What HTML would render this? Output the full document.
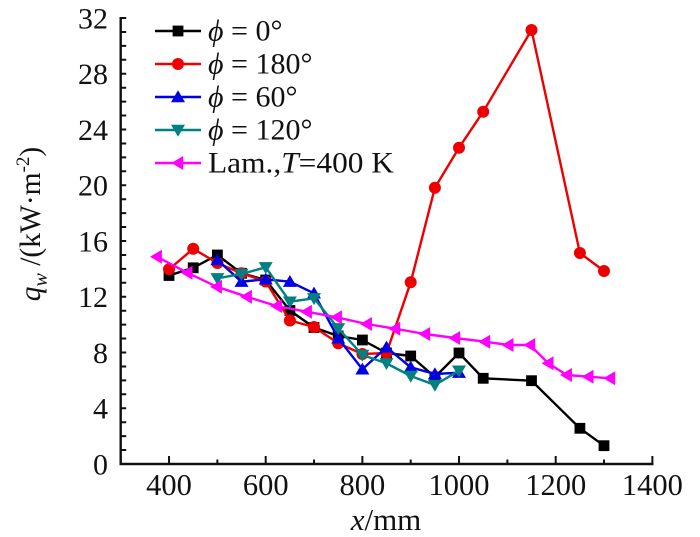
<!DOCTYPE html>
<html><head><meta charset="utf-8"><style>
html,body{margin:0;padding:0;background:#fff;}
svg{display:block;}
text{font-family:"Liberation Serif","Times New Roman",Times,serif;fill:#111;}
</style></head><body>
<svg width="700" height="537" viewBox="0 0 700 537" xmlns="http://www.w3.org/2000/svg" font-family="'Liberation Serif', 'Times New Roman', Times, serif">
<defs>
<marker id="sq" markerUnits="userSpaceOnUse" markerWidth="14" markerHeight="14" refX="7" refY="7" overflow="visible"><rect x="1.6" y="1.6" width="10.8" height="10.8" fill="#000"/></marker>
<marker id="ci" markerUnits="userSpaceOnUse" markerWidth="14" markerHeight="14" refX="7" refY="7" overflow="visible"><circle cx="7" cy="7" r="6" fill="#ee0000"/></marker>
<marker id="tu" markerUnits="userSpaceOnUse" markerWidth="14" markerHeight="14" refX="7" refY="7" overflow="visible"><polygon points="7,0.3 14,12.2 0,12.2" fill="#0000e6"/></marker>
<marker id="td" markerUnits="userSpaceOnUse" markerWidth="14" markerHeight="14" refX="7" refY="7" overflow="visible"><polygon points="7,13.7 14,1.8 0,1.8" fill="#008080"/></marker>
<marker id="tl" markerUnits="userSpaceOnUse" markerWidth="14" markerHeight="14" refX="7" refY="7" overflow="visible"><polygon points="0.3,7 12.2,0 12.2,14" fill="#ff00ff"/></marker>
</defs>

<!-- axes -->
<g stroke="#111" stroke-width="2.4" fill="none">
<path d="M120.7 17 V464 H653.5"/>
</g>
<g stroke="#111" stroke-width="2" fill="none">
<path d="M120.7 450.06h5.5M120.7 436.13h5.5M120.7 422.19h5.5M120.7 408.25h5.5M120.7 394.31h5.5M120.7 380.38h5.5M120.7 366.44h5.5M120.7 352.5h5.5M120.7 338.56h5.5M120.7 324.63h5.5M120.7 310.69h5.5M120.7 296.75h5.5M120.7 282.81h5.5M120.7 268.88h5.5M120.7 254.94h5.5M120.7 241h5.5M120.7 227.06h5.5M120.7 213.13h5.5M120.7 199.19h5.5M120.7 185.25h5.5M120.7 171.31h5.5M120.7 157.38h5.5M120.7 143.44h5.5M120.7 129.5h5.5M120.7 115.56h5.5M120.7 101.63h5.5M120.7 87.69h5.5M120.7 73.75h5.5M120.7 59.81h5.5M120.7 45.88h5.5M120.7 31.94h5.5M120.7 18h5.5"/>
<path d="M169.03 464v-8M217.37 464v-4.5M265.7 464v-8M314.03 464v-4.5M362.37 464v-8M410.7 464v-4.5M459.03 464v-8M507.37 464v-4.5M555.7 464v-8M604.03 464v-4.5M652.37 464v-8"/>
</g>

<!-- y tick labels -->
<g font-size="30" text-anchor="end">
<text x="108" y="474.5">0</text>
<text x="108" y="418.7">4</text>
<text x="108" y="363">8</text>
<text x="108" y="307.2">12</text>
<text x="108" y="251.5">16</text>
<text x="108" y="195.7">20</text>
<text x="108" y="140">24</text>
<text x="108" y="84.2">28</text>
<text x="108" y="28.5">32</text>
</g>
<!-- x tick labels -->
<g font-size="30.5" text-anchor="middle">
<text x="169" y="495">400</text>
<text x="265.7" y="495">600</text>
<text x="362.4" y="495">800</text>
<text x="459" y="495">1000</text>
<text x="555.7" y="495">1200</text>
<text x="652.4" y="495">1400</text>
</g>
<!-- axis titles -->
<text x="386" y="530" font-size="31" text-anchor="middle"><tspan font-style="italic">x</tspan>/mm</text>
<text transform="translate(40,224) rotate(-90)" font-size="29.5" text-anchor="middle"><tspan font-style="italic">q</tspan><tspan font-style="italic" font-size="20" dy="7">w</tspan><tspan dy="-7"> /(kW·m</tspan><tspan font-size="19" dy="-11">-2</tspan><tspan dy="11">)</tspan></text>

<!-- series -->
<g fill="none" stroke-width="2.4" stroke-linejoin="round">
<polyline stroke="#000" marker-start="url(#sq)" marker-mid="url(#sq)" marker-end="url(#sq)" points="169,275.5 193.2,267.8 217.4,255 241.5,273.3 265.7,280 289.9,310.5 314,327.5 338.2,336 362.4,340 386.5,353 410.7,356 434.9,377 459,353 483.2,378.3 531.5,380.7 579.9,428.3 604,445.7"/>
<polyline stroke="#ee0000" marker-start="url(#ci)" marker-mid="url(#ci)" marker-end="url(#ci)" points="169,269.3 193.2,248.8 217.4,263 241.5,273.3 265.7,281.5 289.9,320.5 314,327 338.2,343.3 362.4,354 386.5,353 410.7,282.3 434.9,187.7 459,147.7 483.2,111.7 531.5,30 579.9,253 604,271"/>
<polyline stroke="#0000e6" marker-start="url(#tu)" marker-mid="url(#tu)" marker-end="url(#tu)" points="217.4,260 241.5,281.7 265.7,279.3 289.9,281.7 314,293.3 338.2,338.3 362.4,369.3 386.5,347.3 410.7,367.3 434.9,374 459,372.7"/>
<polyline stroke="#008080" marker-start="url(#td)" marker-mid="url(#td)" marker-end="url(#td)" points="217.4,278.3 241.5,274 265.7,267.3 289.9,301.7 314,298.3 338.2,328.3 362.4,355 386.5,363.3 410.7,376 434.9,385 459,370.7"/>
<polyline stroke="#ff00ff" marker-start="url(#tl)" marker-mid="url(#tl)" marker-end="url(#tl)" points="156.7,256.7 187.3,272.7 216.7,286.7 246.7,296.7 276.7,306 306.7,311.7 336.7,317.3 366.7,324 395,328.7 425,334 455,338 485,341.7 508.3,345 530,345 548.3,363.3 566.7,375 588.3,376.7 610,378.3"/>
</g>

<!-- legend -->
<g fill="none" stroke-width="2.4">
<path stroke="#000" d="M155 31H201"/>
<path stroke="#ee0000" d="M155 64H201"/>
<path stroke="#0000e6" d="M155 97H201"/>
<path stroke="#008080" d="M155 130H201"/>
<path stroke="#ff00ff" d="M155 163H201"/>
</g>
<rect x="172.6" y="25.6" width="10.8" height="10.8" fill="#000"/>
<circle cx="178" cy="64" r="6" fill="#ee0000"/>
<polygon points="178,90.3 185,102.2 171,102.2" fill="#0000e6"/>
<polygon points="178,136.7 185,124.8 171,124.8" fill="#008080"/>
<polygon points="171.3,163 183.2,156 183.2,170" fill="#ff00ff"/>
<g font-size="30">
<text x="208" y="40.5"><tspan font-style="italic">ϕ</tspan> = 0°</text>
<text x="208" y="73.5"><tspan font-style="italic">ϕ</tspan> = 180°</text>
<text x="208" y="106.5"><tspan font-style="italic">ϕ</tspan> = 60°</text>
<text x="208" y="139.5"><tspan font-style="italic">ϕ</tspan> = 120°</text>
<text x="208" y="172.5" textLength="186" lengthAdjust="spacingAndGlyphs">Lam.,<tspan font-style="italic">T</tspan>=400 K</text>
</g>
</svg>
</body></html>
